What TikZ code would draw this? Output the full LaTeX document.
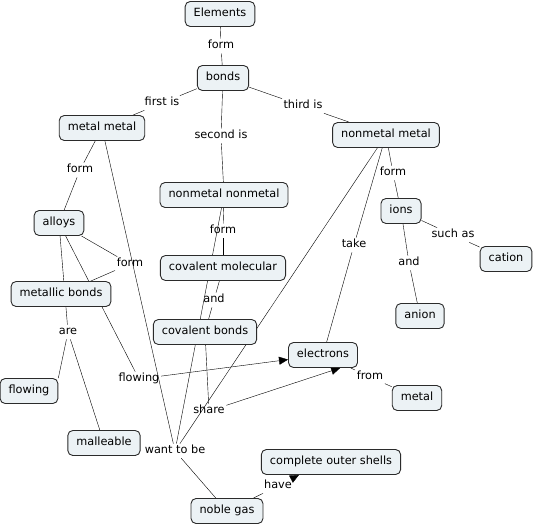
\documentclass[tikz,border=0pt]{standalone}
\usepackage{fontspec}
\setmainfont{DejaVu Sans}
\usepackage{tikz}
\usetikzlibrary{arrows.meta,backgrounds}
\definecolor{conceptfill}{HTML}{ECF2F5}
\definecolor{conceptline}{HTML}{2B2B2B}

\begin{document}
\begin{tikzpicture}[x=1pt,y=-1pt,font=\fontsize{11.3}{13}\selectfont,
    cnode/.style={draw=conceptline,fill=conceptfill,rounded corners=5pt,line width=0.9pt,minimum height=25pt,inner xsep=8.5pt,text height=8.6pt,text depth=2.7pt},
    lword/.style={inner sep=1.5pt,text height=8.6pt,text depth=2.7pt},
    toward/.style={-{Triangle[length=9pt,width=8pt]}}]
    \useasboundingbox (0,0) rectangle (535,527);
    \node[cnode] (elements) at (220,14) {Elements};
    \node[cnode] (bonds) at (223,78) {bonds};
    \node[cnode] (metalmetal) at (102,128) {metal metal};
    \node[cnode] (nonnon) at (224,195) {nonmetal nonmetal};
    \node[cnode] (nonmetal) at (386,135) {nonmetal metal};
    \node[cnode] (alloys) at (59,223) {alloys};
    \node[cnode] (ions) at (401,211) {ions};
    \node[cnode] (cation) at (506,259) {cation};
    \node[cnode] (covmol) at (223,268) {covalent molecular};
    \node[cnode] (metallic) at (61,294) {metallic bonds};
    \node[cnode] (covbonds) at (205,332) {covalent bonds};
    \node[cnode] (anion) at (420,316) {anion};
    \node[cnode] (electrons) at (323,355) {electrons};
    \node[cnode] (flowing) at (29,391) {flowing};
    \node[cnode] (metal) at (417,398) {metal};
    \node[cnode] (malleable) at (104,443) {malleable};
    \node[cnode] (shells) at (331,462) {complete outer shells};
    \node[cnode] (noblegas) at (227,511) {noble gas};
    \node[lword] (formA) at (221,46) {form};
    \node[lword] (firstis) at (162,103) {first is};
    \node[lword] (secondis) at (221,136) {second is};
    \node[lword] (thirdis) at (303,106) {third is};
    \node[lword] (formB) at (80,170) {form};
    \node[lword] (formC) at (223,231) {form};
    \node[lword] (formD) at (393,173) {form};
    \node[lword] (formE) at (130,264) {form};
    \node[lword] (suchas) at (453,235) {such as};
    \node[lword] (take) at (354,245) {take};
    \node[lword] (andA) at (214,300) {and};
    \node[lword] (andB) at (409,263) {and};
    \node[lword] (are) at (68,332) {are};
    \node[lword] (flowlink) at (139,379) {flowing};
    \node[lword] (share) at (209,411) {share};
    \node[lword] (from) at (370,377) {from};
    \node[lword] (wantbe) at (175,451) {want to be};
    \node[lword] (have) at (278,486) {have};
    \begin{scope}[on background layer,line width=0.85pt]
        \foreach \a/\b in {elements/formA,formA/bonds,bonds/firstis,firstis/metalmetal,bonds/secondis,secondis/nonnon,bonds/thirdis,thirdis/nonmetal,metalmetal/formB,formB/alloys,metalmetal/wantbe,nonnon/wantbe,nonmetal/wantbe,wantbe/noblegas,nonnon/formC,formC/covmol,covmol/andA,andA/covbonds,covbonds/share,nonmetal/take,take/electrons,nonmetal/formD,formD/ions,ions/suchas,suchas/cation,ions/andB,andB/anion,electrons/from,from/metal,alloys/formE,formE/metallic,alloys/are,are/flowing.north east,are/malleable,alloys/flowlink,noblegas/have}{\draw (\a)--(\b);}
        \foreach \a/\b in {flowlink/electrons,share/electrons.-37,have/shells.-158}{\draw[toward] (\a)--(\b);}
    \end{scope}
\end{tikzpicture}
\end{document}
